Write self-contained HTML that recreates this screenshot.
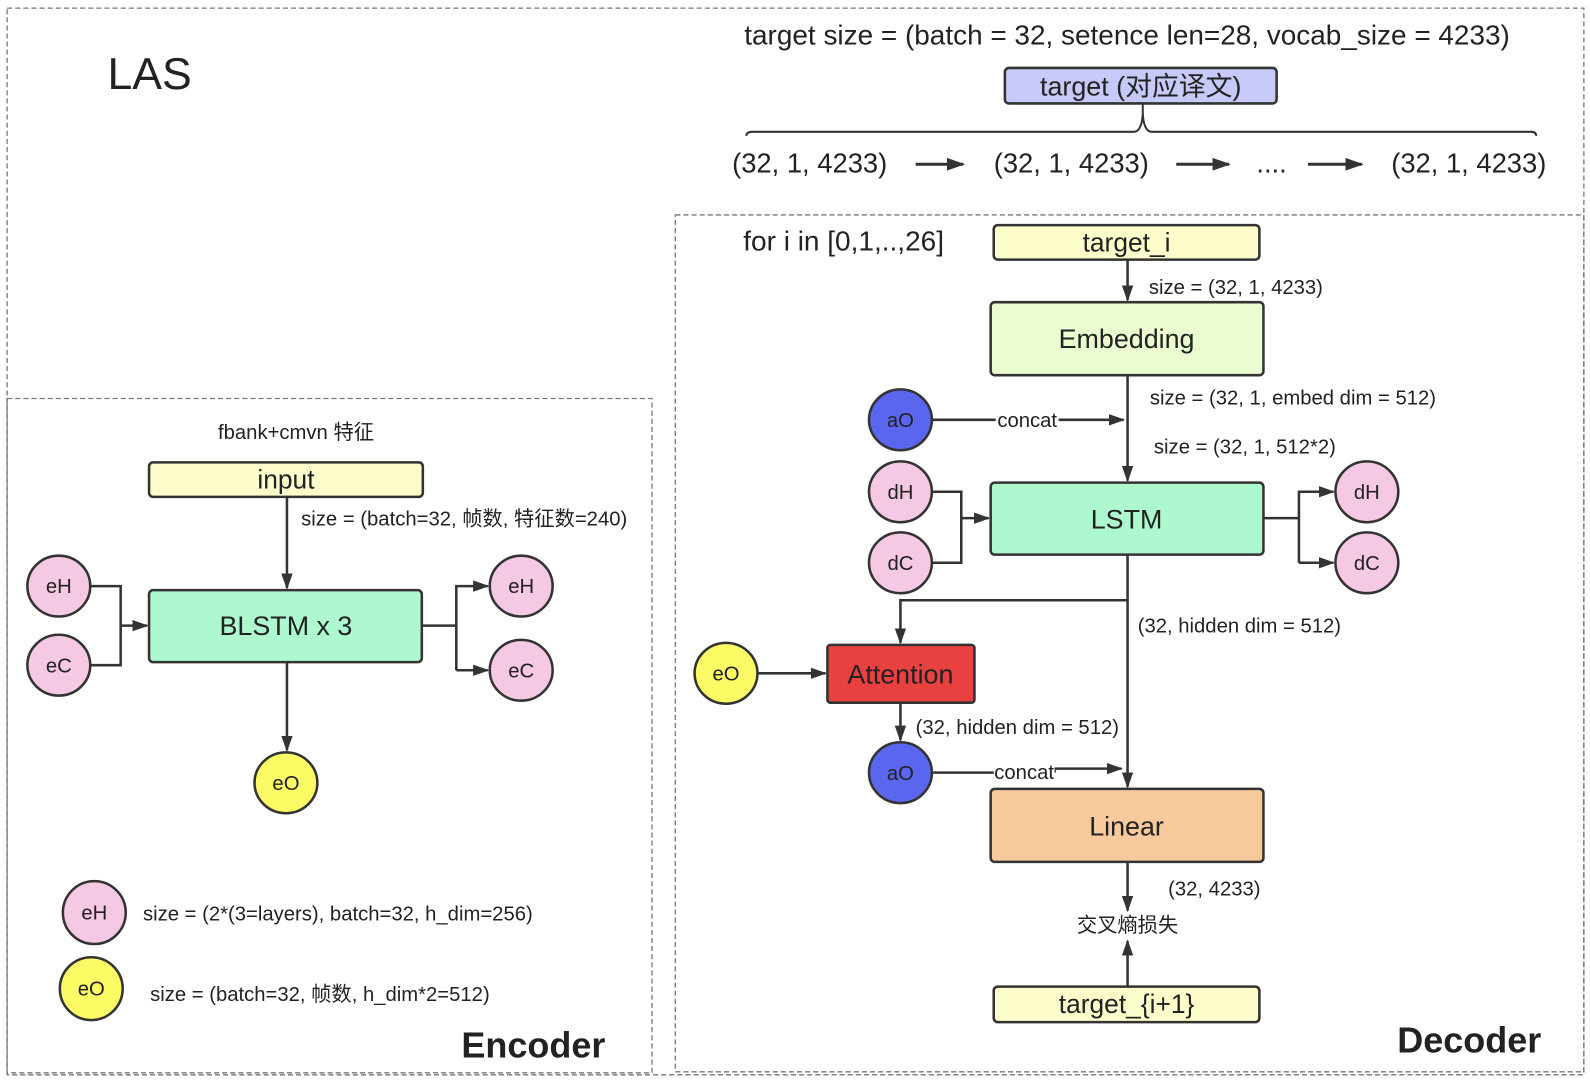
<!DOCTYPE html>
<html><head><meta charset="utf-8"><style>
html,body{margin:0;padding:0;background:#fff;}
svg{display:block;font-family:"Liberation Sans","Noto Sans CJK SC",sans-serif;}
text{fill:#222;}
</style></head><body>
<svg width="1590" height="1080" viewBox="0 0 1590 1080" xmlns="http://www.w3.org/2000/svg">
<defs>
<marker id="a" viewBox="0 0 10 10" refX="9" refY="5" markerWidth="16" markerHeight="16" markerUnits="userSpaceOnUse" orient="auto"><path d="M0,1.5 L10,5 L0,8.5 z" fill="#333"/></marker>
<marker id="b" viewBox="0 0 10 10" refX="9" refY="5" markerWidth="18" markerHeight="18" markerUnits="userSpaceOnUse" orient="auto"><path d="M0,1.5 L10,5 L0,8.5 z" fill="#333"/></marker>
</defs>
<g transform="scale(1.014)">
<g fill="none" stroke="#777" stroke-width="1.3" stroke-dasharray="5,3">
<rect x="7" y="8" width="1555" height="1052"/>
<rect x="7" y="393" width="636" height="665"/>
<rect x="666" y="212" width="896" height="845"/>
</g>
<text x="106" y="88" font-size="44">LAS</text>
<text x="734" y="44" font-size="27.5" textLength="755" lengthAdjust="spacingAndGlyphs">target size = (batch = 32, setence len=28, vocab_size = 4233)</text>
<rect x="991" y="67" width="268" height="35" rx="4" fill="#c7c9f8" stroke="#333" stroke-width="2.5"/>
<text x="1125" y="94" font-size="26.5" text-anchor="middle">target (对应译文)</text>
<path d="M736,134 Q736,130 742,130 L1118,130 Q1126,130 1127,112 L1127,102 M1127,112 Q1128,130 1136,130 L1510,130 Q1515,130 1515,134" fill="none" stroke="#333" stroke-width="2"/>
<g font-size="27"><text x="722" y="170">(32, 1, 4233)</text><text x="980" y="170">(32, 1, 4233)</text><text x="1239" y="170">....</text><text x="1372" y="170">(32, 1, 4233)</text></g>
<g stroke="#333" stroke-width="3" fill="none" marker-end="url(#b)">
<line x1="903" y1="162" x2="950" y2="162"/><line x1="1160" y1="162" x2="1212" y2="162"/><line x1="1290" y1="162" x2="1343" y2="162"/>
</g>
<text x="733" y="247" font-size="27" textLength="198" lengthAdjust="spacingAndGlyphs">for i in [0,1,..,26]</text>
<rect x="980" y="222" width="262" height="34" rx="4" fill="#fdfdcc" stroke="#333" stroke-width="2.5"/>
<text x="1111" y="248" font-size="26" text-anchor="middle">target_i</text>
<rect x="977" y="298" width="269" height="72" rx="4" fill="#ebfdd0" stroke="#333" stroke-width="2.5"/>
<text x="1111" y="343" font-size="26.5" text-anchor="middle">Embedding</text>
<rect x="977" y="476" width="269" height="71" rx="4" fill="#aef8cf" stroke="#333" stroke-width="2.5"/>
<text x="1111" y="521" font-size="26.5" text-anchor="middle">LSTM</text>
<rect x="816" y="636" width="145" height="57" rx="3" fill="#e94040" stroke="#333" stroke-width="2.5"/>
<text x="888" y="674" font-size="26.5" text-anchor="middle">Attention</text>
<rect x="977" y="778" width="269" height="72" rx="4" fill="#f7ca9e" stroke="#333" stroke-width="2.5"/>
<text x="1111" y="824" font-size="26.5" text-anchor="middle">Linear</text>
<rect x="980" y="973" width="262" height="35" rx="4" fill="#fdfdcc" stroke="#333" stroke-width="2.5"/>
<text x="1111" y="999" font-size="26" text-anchor="middle">target_{i+1}</text>
<g stroke="#333" stroke-width="2.5" fill="none">
<line x1="1112" y1="256" x2="1112" y2="296" marker-end="url(#a)"/>
<line x1="1112" y1="370" x2="1112" y2="474" marker-end="url(#a)"/>
<line x1="919" y1="414" x2="1108" y2="414" marker-end="url(#a)"/>
<polyline points="919,485 948,485 948,555 919,555"/>
<line x1="948" y1="511" x2="975" y2="511" marker-end="url(#a)"/>
<line x1="1246" y1="511" x2="1281" y2="511"/>
<polyline points="1281,555 1281,485 1315,485" marker-end="url(#a)"/>
<line x1="1281" y1="555" x2="1315" y2="555" marker-end="url(#a)"/>
<line x1="1112" y1="547" x2="1112" y2="776" marker-end="url(#a)"/>
<polyline points="1112,592 888,592 888,634" marker-end="url(#a)"/>
<line x1="747" y1="664" x2="814" y2="664" marker-end="url(#a)"/>
<line x1="888" y1="693" x2="888" y2="730" marker-end="url(#a)"/>
<line x1="919" y1="762" x2="1040" y2="762"/>
<polyline points="1040,762 1040,758 1106,758" marker-end="url(#a)"/>
<line x1="1112" y1="850" x2="1112" y2="898" marker-end="url(#a)"/>
<line x1="1112" y1="973" x2="1112" y2="928" marker-end="url(#a)"/>
</g>
<rect x="982" y="404" width="62" height="20" fill="#fff"/>
<text x="1013" y="421" font-size="20" text-anchor="middle">concat</text>
<rect x="980" y="750" width="60" height="20" fill="#fff"/>
<text x="1010" y="768" font-size="20" text-anchor="middle">concat</text>
<g font-size="20">
<text x="1133" y="290">size = (32, 1, 4233)</text>
<text x="1134" y="399">size = (32, 1, embed dim = 512)</text>
<text x="1138" y="447">size = (32, 1, 512*2)</text>
<text x="1122" y="624">(32, hidden dim = 512)</text>
<text x="903" y="724">(32, hidden dim = 512)</text>
<text x="1152" y="883">(32, 4233)</text>
<text x="1112" y="919" text-anchor="middle">交叉熵损失</text>
</g>
<g stroke="#333" stroke-width="2.5">
<ellipse cx="888" cy="414" rx="31" ry="30" fill="#5a66ee"/>
<ellipse cx="888" cy="485" rx="31" ry="30" fill="#f5c9e3"/>
<ellipse cx="888" cy="555" rx="31" ry="30" fill="#f5c9e3"/>
<ellipse cx="1348" cy="485" rx="31" ry="30" fill="#f5c9e3"/>
<ellipse cx="1348" cy="555" rx="31" ry="30" fill="#f5c9e3"/>
<ellipse cx="716" cy="664" rx="31" ry="30" fill="#fbfb66"/>
<ellipse cx="888" cy="762" rx="31" ry="30" fill="#5a66ee"/>
</g>
<g font-size="20" text-anchor="middle">
<text x="888" y="421">aO</text><text x="888" y="492">dH</text><text x="888" y="562">dC</text>
<text x="1348" y="492">dH</text><text x="1348" y="562">dC</text><text x="716" y="671">eO</text><text x="888" y="769">aO</text>
</g>
<text x="1378" y="1038" font-size="35.5" font-weight="bold">Decoder</text>

<text x="215" y="433" font-size="20">fbank+cmvn 特征</text>
<rect x="147" y="456" width="270" height="34" rx="4" fill="#fdfdcc" stroke="#333" stroke-width="2.5"/>
<text x="282" y="482" font-size="26" text-anchor="middle">input</text>
<rect x="147" y="582" width="269" height="71" rx="4" fill="#aef8cf" stroke="#333" stroke-width="2.5"/>
<text x="282" y="626" font-size="26.5" text-anchor="middle">BLSTM x 3</text>
<text x="297" y="518" font-size="20">size = (batch=32, 帧数, 特征数=240)</text>
<g stroke="#333" stroke-width="2.5" fill="none">
<line x1="283" y1="490" x2="283" y2="580" marker-end="url(#a)"/>
<polyline points="89,578 119,578 119,656 89,656"/>
<line x1="119" y1="617" x2="145" y2="617" marker-end="url(#a)"/>
<line x1="416" y1="617" x2="450" y2="617"/>
<polyline points="450,661 450,578 481,578" marker-end="url(#a)"/>
<line x1="450" y1="661" x2="481" y2="661" marker-end="url(#a)"/>
<line x1="283" y1="653" x2="283" y2="740" marker-end="url(#a)"/>
</g>
<g stroke="#333" stroke-width="2.5">
<ellipse cx="58" cy="578" rx="31" ry="30" fill="#f5c9e3"/>
<ellipse cx="58" cy="656" rx="31" ry="30" fill="#f5c9e3"/>
<ellipse cx="514" cy="578" rx="31" ry="30" fill="#f5c9e3"/>
<ellipse cx="514" cy="661" rx="31" ry="30" fill="#f5c9e3"/>
<ellipse cx="282" cy="772" rx="31" ry="30" fill="#fbfb66"/>
<ellipse cx="93" cy="900" rx="31" ry="31" fill="#f5c9e3"/>
<ellipse cx="90" cy="975" rx="31" ry="31" fill="#fbfb66"/>
</g>
<g font-size="20" text-anchor="middle">
<text x="58" y="585">eH</text><text x="58" y="663">eC</text><text x="514" y="585">eH</text><text x="514" y="668">eC</text>
<text x="282" y="779">eO</text><text x="93" y="907">eH</text><text x="90" y="982">eO</text>
</g>
<text x="141" y="908" font-size="20">size = (2*(3=layers), batch=32, h_dim=256)</text>
<text x="148" y="987" font-size="20">size = (batch=32, 帧数, h_dim*2=512)</text>
<text x="455" y="1043" font-size="35.5" font-weight="bold">Encoder</text>
</g>
</svg>
</body></html>
